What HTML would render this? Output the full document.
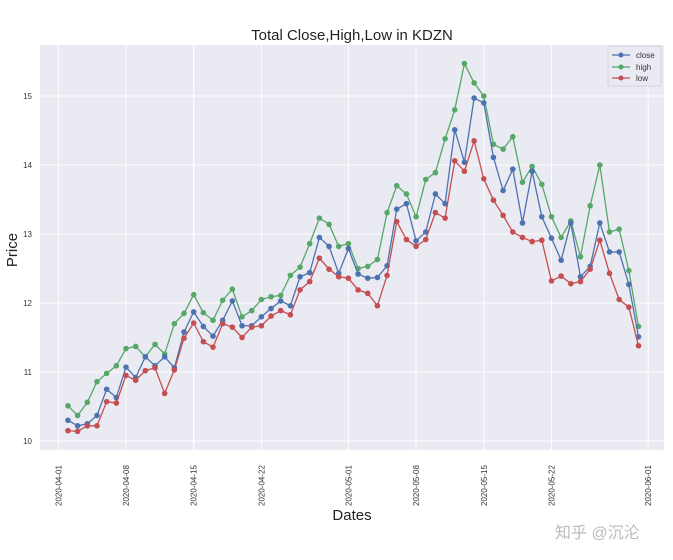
<!DOCTYPE html>
<html><head><meta charset="utf-8"><style>
body{margin:0;background:#fff;}
svg{display:block;font-family:"Liberation Sans","DejaVu Sans","Noto Sans CJK SC",sans-serif;}
</style></head><body>
<svg id="chart" width="673" height="560">
<rect x="40" y="45" width="624" height="405" fill="#EAEAF2"/>
<g id="grid"></g>
<g id="axes"></g>
<g id="series"></g>
<text x="352" y="40" font-size="15" text-anchor="middle" fill="#222">Total Close,High,Low in KDZN</text>
<text x="352" y="520" font-size="15" text-anchor="middle" fill="#222">Dates</text>
<text transform="translate(17,250) rotate(-90)" font-size="15" text-anchor="middle" fill="#222">Price</text>
<g>
<rect x="608" y="46" width="53" height="40" fill="#EAEAF2" stroke="#ccc" stroke-width="0.8" rx="2"/>
<g><line x1="612" y1="55" x2="630" y2="55" stroke="#4C72B0" stroke-width="1.3"/><circle cx="621" cy="55" r="2.5" fill="#4C72B0"/><text x="636" y="58" font-size="8" fill="#333">close</text></g>
<g><line x1="612" y1="67" x2="630" y2="67" stroke="#55A868" stroke-width="1.3"/><circle cx="621" cy="67" r="2.5" fill="#55A868"/><text x="636" y="70" font-size="8" fill="#333">high</text></g>
<g><line x1="612" y1="78" x2="630" y2="78" stroke="#C44E52" stroke-width="1.3"/><circle cx="621" cy="78" r="2.5" fill="#C44E52"/><text x="636" y="81" font-size="8" fill="#333">low</text></g>
</g>
<text x="555" y="538" font-size="16" fill="#bbb">知乎 @沉沦</text>
</svg>
<script>
const dayIndex = Array.from({length:60},(_,i)=>i+1);
const closeVals = [10.30,10.22,10.25,10.37,10.75,10.63,11.07,10.92,11.22,11.09,11.22,11.06,11.58,11.87,11.66,11.52,11.75,12.03,11.67,11.67,11.80,11.92,12.03,11.96,12.38,12.44,12.95,12.82,12.43,12.79,12.42,12.36,12.37,12.54,13.36,13.44,12.90,13.03,13.58,13.44,14.51,14.04,14.97,14.90,14.11,13.63,13.94,13.16,13.91,13.25,12.94,12.62,13.16,12.38,12.53,13.16,12.74,12.74,12.27,11.51];
const highVals = [10.51,10.37,10.56,10.86,10.98,11.09,11.34,11.37,11.22,11.40,11.26,11.70,11.85,12.12,11.86,11.75,12.04,12.20,11.80,11.89,12.05,12.09,12.11,12.40,12.52,12.86,13.23,13.14,12.82,12.86,12.50,12.53,12.63,13.31,13.70,13.58,13.25,13.79,13.89,14.38,14.80,15.47,15.19,15.00,14.30,14.23,14.41,13.75,13.98,13.72,13.25,12.95,13.19,12.67,13.41,14.00,13.03,13.07,12.47,11.66];
const lowVals = [10.15,10.14,10.22,10.22,10.57,10.55,10.95,10.88,11.02,11.06,10.69,11.03,11.49,11.71,11.44,11.36,11.70,11.65,11.50,11.65,11.67,11.81,11.89,11.83,12.19,12.31,12.65,12.49,12.38,12.36,12.19,12.14,11.96,12.40,13.18,12.92,12.82,12.92,13.31,13.23,14.06,13.91,14.35,13.80,13.49,13.27,13.03,12.95,12.89,12.91,12.32,12.39,12.28,12.31,12.49,12.91,12.43,12.05,11.94,11.38];
const xTickDays = [0,7,14,21,30,37,44,51,61];
const xTickLabels = ["2020-04-01","2020-04-08","2020-04-15","2020-04-22","2020-05-01","2020-05-08","2020-05-15","2020-05-22","2020-06-01"];
const yTicks = [10,11,12,13,14,15];

const NS="http://www.w3.org/2000/svg";
const xs = d => 58.3 + 9.67*d;
const ys = v => 441 - 69*(v-10);
function mk(tag, attrs, parent){const e=document.createElementNS(NS,tag);for(const k in attrs)e.setAttribute(k,attrs[k]);parent.appendChild(e);return e;}
const grid=document.getElementById('grid'), axes=document.getElementById('axes'), series=document.getElementById('series');
yTicks.forEach(t=>{
  const l=mk('line',{x1:40,x2:664,y1:ys(t),y2:ys(t),stroke:'#fff','stroke-width':1},grid);
  
  
  const tx=mk('text',{x:32,y:ys(t)+3,'font-size':8,'text-anchor':'end',fill:'#333'},axes);
  tx.textContent=t;
  
  
});
xTickDays.forEach((d,i)=>{
  const l=mk('line',{x1:xs(d),x2:xs(d),y1:45,y2:450,stroke:'#fff','stroke-width':1},grid);
  
  
  const tx=mk('text',{transform:`translate(${xs(d)+3},506) rotate(-90)`,'font-size':8,fill:'#333'},axes);
  tx.textContent=xTickLabels[i];
  
  
});
function draw(vals,color,name){
  const g=mk('g',{},series);
  
  
  const pl=mk('polyline',{points:vals.map((v,i)=>xs(dayIndex[i])+','+ys(v)).join(' '),fill:'none',stroke:color,'stroke-width':1.3},g);
  
  
  vals.forEach((v,i)=>{
    const c=mk('circle',{cx:xs(dayIndex[i]),cy:ys(v),r:2.8,fill:color},g);
    
    
  });
}
draw(highVals,'#55A868','high');
draw(closeVals,'#4C72B0','close');
draw(lowVals,'#C44E52','low');
</script>
</body></html>
